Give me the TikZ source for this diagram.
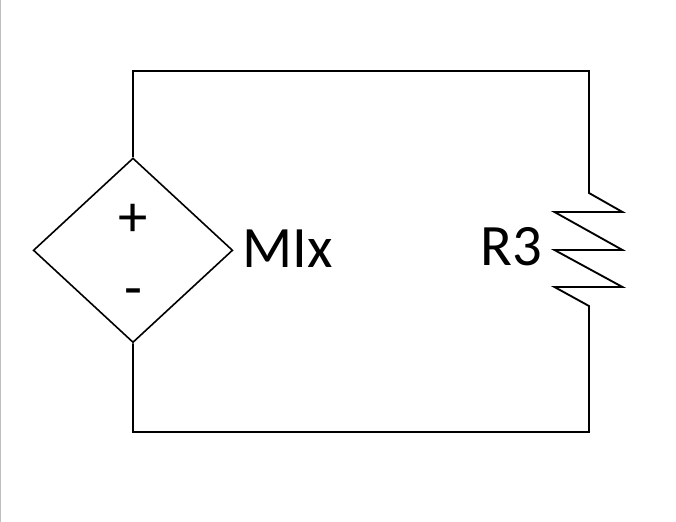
\documentclass[tikz,border=0pt]{standalone}
\usepackage{fontspec}
\setmainfont{Carlito}
\usetikzlibrary{shapes.geometric}
\tikzset{
  wire/.style={draw=black,line width=1.4pt,line join=miter},
  source/.style={diamond,draw=black,line width=1.2pt,inner sep=0pt,minimum width=149.6pt,minimum height=138.4pt},
  lbl/.style={font=\fontsize{44}{50}\selectfont,inner sep=0pt,text=black}
}
\begin{document}
\begin{tikzpicture}[x=0.75pt,y=-0.75pt]
\useasboundingbox (0,0) rectangle (676,522);
\fill[white] (0,0) rectangle (676,522);
\fill[black!25] (0,0) rectangle (1.2,522);
\node[source] (src) at (133,250.3) {};
\node[lbl,anchor=center] (plus) at (133,220) {+};
\node[lbl,anchor=center] (minus) at (133,298) {-};
\node[lbl,anchor=base west] (mix) at (242.5,267) {MIx};
\node[lbl,anchor=base west] (r3) at (480,265) {R3};
\coordinate (tl) at (133,71);
\coordinate (tr) at (589,71);
\coordinate (bl) at (133,432);
\coordinate (br) at (589,432);
\coordinate (rtop) at (589,193);
\coordinate (rbot) at (589,306);
\draw[wire] (src.north) -- (tl) -- (tr) -- (rtop)
  -- (622.5,212) -- (554.5,212) -- (622.5,250) -- (554.5,250) -- (622.5,287) -- (554.5,287)
  -- (rbot) -- (br) -- (bl) -- (src.south);
\end{tikzpicture}
\end{document}
